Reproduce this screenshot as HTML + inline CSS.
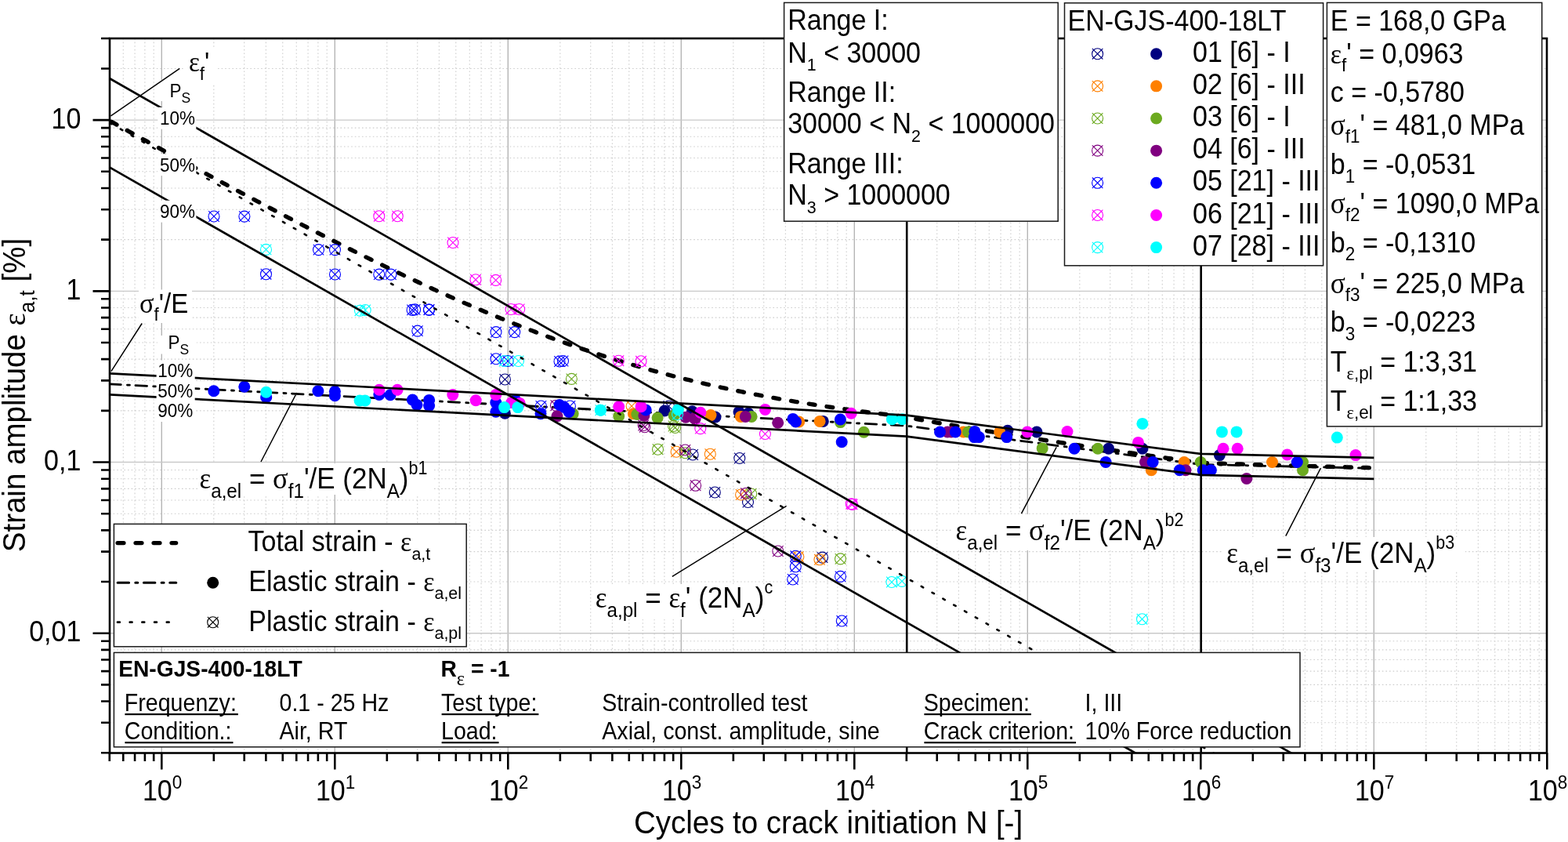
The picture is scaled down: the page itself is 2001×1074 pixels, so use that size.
<!DOCTYPE html>
<html><head><meta charset="utf-8"><title>Strain-life curve EN-GJS-400-18LT</title>
<style>html,body{margin:0;padding:0;background:#fff;overflow:hidden}svg{display:block}</style></head>
<body><svg width="2001" height="1074" viewBox="0 0 2001 1074">
<rect width="2001" height="1074" fill="#fff"/>
<path d="M157.27 49V960.5M172.07 49V960.5M184.88 49V960.5M196.19 49V960.5M272.83 49V960.5M311.74 49V960.5M339.36 49V960.5M360.77 49V960.5M378.27 49V960.5M393.07 49V960.5M405.88 49V960.5M417.19 49V960.5M493.83 49V960.5M532.74 49V960.5M560.36 49V960.5M581.77 49V960.5M599.27 49V960.5M614.07 49V960.5M626.88 49V960.5M638.19 49V960.5M714.83 49V960.5M753.74 49V960.5M781.36 49V960.5M802.77 49V960.5M820.27 49V960.5M835.07 49V960.5M847.88 49V960.5M859.19 49V960.5M935.83 49V960.5M974.74 49V960.5M1002.36 49V960.5M1023.77 49V960.5M1041.27 49V960.5M1056.07 49V960.5M1068.88 49V960.5M1080.19 49V960.5M1156.83 49V960.5M1195.74 49V960.5M1223.36 49V960.5M1244.77 49V960.5M1262.27 49V960.5M1277.07 49V960.5M1289.88 49V960.5M1301.19 49V960.5M1377.83 49V960.5M1416.74 49V960.5M1444.36 49V960.5M1465.77 49V960.5M1483.27 49V960.5M1498.07 49V960.5M1510.88 49V960.5M1522.19 49V960.5M1598.83 49V960.5M1637.74 49V960.5M1665.36 49V960.5M1686.77 49V960.5M1704.27 49V960.5M1719.07 49V960.5M1731.88 49V960.5M1743.19 49V960.5M1819.83 49V960.5M1858.74 49V960.5M1886.36 49V960.5M1907.77 49V960.5M1925.27 49V960.5M1940.07 49V960.5M1952.88 49V960.5M1964.19 49V960.5M140 921.82H1974M140 894.56H1974M140 873.41H1974M140 856.14H1974M140 841.53H1974M140 828.88H1974M140 817.71H1974M140 742.05H1974M140 703.62H1974M140 676.36H1974M140 655.21H1974M140 637.94H1974M140 623.33H1974M140 610.68H1974M140 599.51H1974M140 523.85H1974M140 485.42H1974M140 458.16H1974M140 437.01H1974M140 419.74H1974M140 405.13H1974M140 392.48H1974M140 381.31H1974M140 305.65H1974M140 267.22H1974M140 239.96H1974M140 218.81H1974M140 201.54H1974M140 186.93H1974M140 174.28H1974M140 163.11H1974M140 87.45H1974" stroke="#cdcdcd" stroke-width="1.1" stroke-dasharray="1.6 3" fill="none"/>
<path d="M206.3 49V960.5M427.3 49V960.5M648.3 49V960.5M869.3 49V960.5M1090.3 49V960.5M1311.3 49V960.5M1532.3 49V960.5M1753.3 49V960.5" stroke="#b5b5b5" stroke-width="1.4" fill="none"/>
<path d="M140 807.73H1974M140 589.53H1974M140 371.33H1974M140 153.13H1974" stroke="#c9c9c9" stroke-width="1.4" fill="none"/>
<defs><clipPath id="pc"><rect x="140.0" y="49.0" width="1834.0" height="911.5"/></clipPath></defs>
<g clip-path="url(#pc)" fill="none" stroke="#000">
<path d="M139.77 489.85L1156.83 543.17L1532.3 592.44L1753.3 597.37" stroke-width="2.8" stroke-dasharray="14.5 8.2 3 7.6" stroke-linecap="round"/>
<path d="M139.77 153.93L142.46 155.42L145.15 156.91L147.84 158.41L150.53 159.9L153.22 161.39L155.91 162.88L158.6 164.37L161.29 165.86L163.98 167.35L166.66 168.84L169.35 170.33L172.04 171.82L174.73 173.3L177.42 174.79L180.11 176.27L182.8 177.76L185.49 179.24L188.18 180.72L190.87 182.21L193.56 183.69L196.25 185.17L198.94 186.65L201.62 188.13L204.31 189.61L207 191.09L209.69 192.56L212.38 194.04L215.07 195.51L217.76 196.99L220.45 198.46L223.14 199.93L225.83 201.41L228.52 202.88L231.21 204.35L233.89 205.82L236.58 207.28L239.27 208.75L241.96 210.22L244.65 211.68L247.34 213.15L250.03 214.61L252.72 216.07L255.41 217.53L258.1 218.99L260.79 220.45L263.48 221.91L266.17 223.37L268.85 224.82L271.54 226.28L274.23 227.73L276.92 229.19L279.61 230.64L282.3 232.09L284.99 233.54L287.68 234.99L290.37 236.43L293.06 237.88L295.75 239.32L298.44 240.77L301.13 242.21L303.81 243.65L306.5 245.09L309.19 246.53L311.88 247.96L314.57 249.4L317.26 250.83L319.95 252.26L322.64 253.7L325.33 255.12L328.02 256.55L330.71 257.98L333.4 259.41L336.08 260.83L338.77 262.25L341.46 263.67L344.15 265.09L346.84 266.51L349.53 267.93L352.22 269.34L354.91 270.75L357.6 272.16L360.29 273.57L362.98 274.98L365.67 276.39L368.36 277.79L371.04 279.2L373.73 280.6L376.42 282L379.11 283.39L381.8 284.79L384.49 286.18L387.18 287.57L389.87 288.96L392.56 290.35L395.25 291.74L397.94 293.12L400.63 294.5L403.32 295.88L406 297.26L408.69 298.64L411.38 300.01L414.07 301.38L416.76 302.75L419.45 304.12L422.14 305.49L424.83 306.85L427.52 308.21L430.21 309.57L432.9 310.93L435.59 312.28L438.27 313.63L440.96 314.98L443.65 316.33L446.34 317.67L449.03 319.02L451.72 320.36L454.41 321.69L457.1 323.03L459.79 324.36L462.48 325.69L465.17 327.02L467.86 328.34L470.55 329.66L473.23 330.98L475.92 332.3L478.61 333.61L481.3 334.92L483.99 336.23L486.68 337.54L489.37 338.84L492.06 340.14L494.75 341.44L497.44 342.73L500.13 344.02L502.82 345.31L505.51 346.6L508.19 347.88L510.88 349.16L513.57 350.43L516.26 351.71L518.95 352.98L521.64 354.24L524.33 355.51L527.02 356.77L529.71 358.02L532.4 359.28L535.09 360.53L537.78 361.77L540.47 363.02L543.15 364.26L545.84 365.49L548.53 366.73L551.22 367.96L553.91 369.18L556.6 370.41L559.29 371.62L561.98 372.84L564.67 374.05L567.36 375.26L570.05 376.46L572.74 377.67L575.42 378.86L578.11 380.06L580.8 381.25L583.49 382.43L586.18 383.61L588.87 384.79L591.56 385.96L594.25 387.13L596.94 388.3L599.63 389.46L602.32 390.62L605.01 391.77L607.7 392.92L610.38 394.07L613.07 395.21L615.76 396.35L618.45 397.48L621.14 398.61L623.83 399.74L626.52 400.86L629.21 401.97L631.9 403.09L634.59 404.19L637.28 405.3L639.97 406.4L642.66 407.49L645.34 408.58L648.03 409.66L650.72 410.75L653.41 411.82L656.1 412.89L658.79 413.96L661.48 415.02L664.17 416.08L666.86 417.14L669.55 418.19L672.24 419.23L674.93 420.27L677.61 421.3L680.3 422.33L682.99 423.36L685.68 424.38L688.37 425.4L691.06 426.41L693.75 427.41L696.44 428.42L699.13 429.41L701.82 430.4L704.51 431.39L707.2 432.37L709.89 433.35L712.57 434.32L715.26 435.29L717.95 436.25L720.64 437.21L723.33 438.16L726.02 439.11L728.71 440.05L731.4 440.99L734.09 441.92L736.78 442.85L739.47 443.77L742.16 444.69L744.85 445.6L747.53 446.51L750.22 447.41L752.91 448.3L755.6 449.2L758.29 450.08L760.98 450.96L763.67 451.84L766.36 452.71L769.05 453.58L771.74 454.44L774.43 455.3L777.12 456.15L779.8 456.99L782.49 457.83L785.18 458.67L787.87 459.5L790.56 460.32L793.25 461.14L795.94 461.96L798.63 462.77L801.32 463.57L804.01 464.37L806.7 465.17L809.39 465.96L812.08 466.74L814.76 467.52L817.45 468.29L820.14 469.06L822.83 469.83L825.52 470.59L828.21 471.34L830.9 472.09L833.59 472.83L836.28 473.57L838.97 474.31L841.66 475.03L844.35 475.76L847.04 476.48L849.72 477.19L852.41 477.9L855.1 478.6L857.79 479.3L860.48 480L863.17 480.69L865.86 481.37L868.55 482.05L871.24 482.72L873.93 483.39L876.62 484.06L879.31 484.72L882 485.37L884.68 486.02L887.37 486.67L890.06 487.31L892.75 487.95L895.44 488.58L898.13 489.21L900.82 489.83L903.51 490.45L906.2 491.06L908.89 491.67L911.58 492.27L914.27 492.87L916.95 493.47L919.64 494.06L922.33 494.64L925.02 495.23L927.71 495.8L930.4 496.38L933.09 496.94L935.78 497.51L938.47 498.07L941.16 498.62L943.85 499.17L946.54 499.72L949.23 500.26L951.91 500.8L954.6 501.34L957.29 501.87L959.98 502.39L962.67 502.92L965.36 503.43L968.05 503.95L970.74 504.46L973.43 504.96L976.12 505.47L978.81 505.96L981.5 506.46L984.19 506.95L986.87 507.43L989.56 507.92L992.25 508.4L994.94 508.87L997.63 509.34L1000.32 509.81L1003.01 510.27L1005.7 510.73L1008.39 511.19L1011.08 511.64L1013.77 512.09L1016.46 512.54L1019.14 512.98L1021.83 513.42L1024.52 513.86L1027.21 514.29L1029.9 514.72L1032.59 515.15L1035.28 515.57L1037.97 515.99L1040.66 516.4L1043.35 516.82L1046.04 517.22L1048.73 517.63L1051.42 518.03L1054.1 518.43L1056.79 518.83L1059.48 519.22L1062.17 519.62L1064.86 520L1067.55 520.39L1070.24 520.77L1072.93 521.15L1075.62 521.52L1078.31 521.9L1081 522.27L1083.69 522.64L1086.38 523L1089.06 523.36L1091.75 523.72L1094.44 524.08L1097.13 524.43L1099.82 524.78L1102.51 525.13L1105.2 525.48L1107.89 525.82L1110.58 526.16L1113.27 526.5L1115.96 526.84L1118.65 527.17L1121.34 527.5L1124.02 527.83L1126.71 528.16L1129.4 528.48L1132.09 528.8L1134.78 529.12L1137.47 529.44L1140.16 529.75L1142.85 530.07L1145.54 530.38L1148.23 530.69L1150.92 530.99L1153.61 531.3L1156.29 531.6L1158.98 532.67L1161.67 533.15L1164.36 533.63L1167.05 534.11L1169.74 534.59L1172.43 535.07L1175.12 535.54L1177.81 536.01L1180.5 536.49L1183.19 536.96L1185.88 537.43L1188.57 537.9L1191.25 538.36L1193.94 538.83L1196.63 539.29L1199.32 539.76L1202.01 540.22L1204.7 540.68L1207.39 541.14L1210.08 541.59L1212.77 542.05L1215.46 542.51L1218.15 542.96L1220.84 543.41L1223.53 543.87L1226.21 544.32L1228.9 544.77L1231.59 545.21L1234.28 545.66L1236.97 546.11L1239.66 546.55L1242.35 547L1245.04 547.44L1247.73 547.88L1250.42 548.32L1253.11 548.76L1255.8 549.2L1258.48 549.64L1261.17 550.07L1263.86 550.51L1266.55 550.94L1269.24 551.37L1271.93 551.81L1274.62 552.24L1277.31 552.67L1280 553.1L1282.69 553.53L1285.38 553.95L1288.07 554.38L1290.76 554.81L1293.44 555.23L1296.13 555.65L1298.82 556.08L1301.51 556.5L1304.2 556.92L1306.89 557.34L1309.58 557.76L1312.27 558.18L1314.96 558.6L1317.65 559.01L1320.34 559.43L1323.03 559.85L1325.72 560.26L1328.4 560.67L1331.09 561.09L1333.78 561.5L1336.47 561.91L1339.16 562.32L1341.85 562.73L1344.54 563.14L1347.23 563.55L1349.92 563.96L1352.61 564.36L1355.3 564.77L1357.99 565.18L1360.67 565.58L1363.36 565.99L1366.05 566.39L1368.74 566.79L1371.43 567.2L1374.12 567.6L1376.81 568L1379.5 568.4L1382.19 568.8L1384.88 569.2L1387.57 569.6L1390.26 569.99L1392.95 570.39L1395.63 570.79L1398.32 571.19L1401.01 571.58L1403.7 571.98L1406.39 572.37L1409.08 572.76L1411.77 573.16L1414.46 573.55L1417.15 573.94L1419.84 574.33L1422.53 574.73L1425.22 575.12L1427.91 575.51L1430.59 575.9L1433.28 576.29L1435.97 576.67L1438.66 577.06L1441.35 577.45L1444.04 577.84L1446.73 578.22L1449.42 578.61L1452.11 579L1454.8 579.38L1457.49 579.77L1460.18 580.15L1462.87 580.54L1465.55 580.92L1468.24 581.3L1470.93 581.69L1473.62 582.07L1476.31 582.45L1479 582.83L1481.69 583.21L1484.38 583.59L1487.07 583.97L1489.76 584.35L1492.45 584.73L1495.14 585.11L1497.82 585.49L1500.51 585.87L1503.2 586.25L1505.89 586.62L1508.58 587L1511.27 587.38L1513.96 587.76L1516.65 588.13L1519.34 588.51L1522.03 588.88L1524.72 589.26L1527.41 589.63L1530.1 590.01L1532.78 590.4L1535.47 590.49L1538.16 590.58L1540.85 590.67L1543.54 590.76L1546.23 590.85L1548.92 590.94L1551.61 591.03L1554.3 591.12L1556.99 591.21L1559.68 591.29L1562.37 591.38L1565.06 591.47L1567.74 591.55L1570.43 591.64L1573.12 591.72L1575.81 591.81L1578.5 591.89L1581.19 591.98L1583.88 592.06L1586.57 592.15L1589.26 592.23L1591.95 592.31L1594.64 592.39L1597.33 592.48L1600.01 592.56L1602.7 592.64L1605.39 592.72L1608.08 592.8L1610.77 592.88L1613.46 592.96L1616.15 593.04L1618.84 593.12L1621.53 593.2L1624.22 593.28L1626.91 593.36L1629.6 593.43L1632.29 593.51L1634.97 593.59L1637.66 593.67L1640.35 593.74L1643.04 593.82L1645.73 593.9L1648.42 593.97L1651.11 594.05L1653.8 594.12L1656.49 594.2L1659.18 594.28L1661.87 594.35L1664.56 594.42L1667.25 594.5L1669.93 594.57L1672.62 594.65L1675.31 594.72L1678 594.79L1680.69 594.87L1683.38 594.94L1686.07 595.01L1688.76 595.09L1691.45 595.16L1694.14 595.23L1696.83 595.3L1699.52 595.38L1702.2 595.45L1704.89 595.52L1707.58 595.59L1710.27 595.66L1712.96 595.73L1715.65 595.8L1718.34 595.87L1721.03 595.94L1723.72 596.01L1726.41 596.08L1729.1 596.15L1731.79 596.22L1734.48 596.29L1737.16 596.36L1739.85 596.43L1742.54 596.5L1745.23 596.57L1747.92 596.64L1750.61 596.71L1753.3 596.78" stroke-width="5.4" stroke-dasharray="7.8 15.2" stroke-dashoffset="-2.7" stroke-linecap="round"/>
</g>
<g>
<circle cx="644.4" cy="484" r="7.0" fill="none" stroke="#000080" stroke-width="1.1"/><path d="M637.6 477.2L651.2 490.8M637.6 490.8L651.2 477.2" stroke="#000080" stroke-width="1.1"/>
<circle cx="884.1" cy="580" r="7.0" fill="none" stroke="#000080" stroke-width="1.1"/><path d="M877.3 573.2L890.9 586.8M877.3 586.8L890.9 573.2" stroke="#000080" stroke-width="1.1"/>
<circle cx="943.8" cy="584.5" r="7.0" fill="none" stroke="#000080" stroke-width="1.1"/><path d="M937 577.7L950.6 591.3M937 591.3L950.6 577.7" stroke="#000080" stroke-width="1.1"/>
<circle cx="912.3" cy="628" r="7.0" fill="none" stroke="#000080" stroke-width="1.1"/><path d="M905.5 621.2L919.1 634.8M905.5 634.8L919.1 621.2" stroke="#000080" stroke-width="1.1"/>
<circle cx="954.5" cy="640.5" r="7.0" fill="none" stroke="#000080" stroke-width="1.1"/><path d="M947.7 633.7L961.3 647.3M947.7 647.3L961.3 633.7" stroke="#000080" stroke-width="1.1"/>
<circle cx="1049.5" cy="711.1" r="7.0" fill="none" stroke="#000080" stroke-width="1.1"/><path d="M1042.7 704.3L1056.3 717.9M1042.7 717.9L1056.3 704.3" stroke="#000080" stroke-width="1.1"/>
<circle cx="853.4" cy="518" r="7.0" fill="none" stroke="#000080" stroke-width="1.1"/><path d="M846.6 511.2L860.2 524.8M846.6 524.8L860.2 511.2" stroke="#000080" stroke-width="1.1"/>
<circle cx="644.4" cy="527.2" r="7.5" fill="#000080"/>
<circle cx="848.1" cy="524" r="7.5" fill="#000080"/>
<circle cx="883.4" cy="524.7" r="7.5" fill="#000080"/>
<circle cx="913" cy="532" r="7.5" fill="#000080"/>
<circle cx="943" cy="525.4" r="7.5" fill="#000080"/>
<circle cx="955" cy="527.2" r="7.5" fill="#000080"/>
<circle cx="1050.3" cy="537.4" r="7.5" fill="#000080"/>
<circle cx="1285.9" cy="549.2" r="7.5" fill="#000080"/>
<circle cx="1323" cy="551" r="7.5" fill="#000080"/>
<circle cx="1414.7" cy="572.2" r="7.5" fill="#000080"/>
<circle cx="1457.9" cy="572.2" r="7.5" fill="#000080"/>
<circle cx="1556.4" cy="580.6" r="7.5" fill="#000080"/>
<circle cx="806.1" cy="518" r="7.0" fill="none" stroke="#FF8000" stroke-width="1.1"/><path d="M799.3 511.2L812.9 524.8M799.3 524.8L812.9 511.2" stroke="#FF8000" stroke-width="1.1"/>
<circle cx="863.1" cy="576.2" r="7.0" fill="none" stroke="#FF8000" stroke-width="1.1"/><path d="M856.3 569.4L869.9 583M856.3 583L869.9 569.4" stroke="#FF8000" stroke-width="1.1"/>
<circle cx="906.3" cy="579.2" r="7.0" fill="none" stroke="#FF8000" stroke-width="1.1"/><path d="M899.5 572.4L913.1 586M899.5 586L913.1 572.4" stroke="#FF8000" stroke-width="1.1"/>
<circle cx="945.6" cy="631" r="7.0" fill="none" stroke="#FF8000" stroke-width="1.1"/><path d="M938.8 624.2L952.4 637.8M938.8 637.8L952.4 624.2" stroke="#FF8000" stroke-width="1.1"/>
<circle cx="1018.9" cy="710.2" r="7.0" fill="none" stroke="#FF8000" stroke-width="1.1"/><path d="M1012.1 703.4L1025.7 717M1012.1 717L1025.7 703.4" stroke="#FF8000" stroke-width="1.1"/>
<circle cx="1045.9" cy="713.8" r="7.0" fill="none" stroke="#FF8000" stroke-width="1.1"/><path d="M1039.1 707L1052.7 720.6M1039.1 720.6L1052.7 707" stroke="#FF8000" stroke-width="1.1"/>
<circle cx="808.4" cy="527.7" r="7.5" fill="#FF8000"/>
<circle cx="907" cy="529.6" r="7.5" fill="#FF8000"/>
<circle cx="945.3" cy="531.4" r="7.5" fill="#FF8000"/>
<circle cx="1019.7" cy="538" r="7.5" fill="#FF8000"/>
<circle cx="1046.1" cy="537.4" r="7.5" fill="#FF8000"/>
<circle cx="1229.5" cy="551" r="7.5" fill="#FF8000"/>
<circle cx="1275.7" cy="551" r="7.5" fill="#FF8000"/>
<circle cx="1469.3" cy="599.7" r="7.5" fill="#FF8000"/>
<circle cx="1511.2" cy="589.5" r="7.5" fill="#FF8000"/>
<circle cx="1623.5" cy="589.5" r="7.5" fill="#FF8000"/>
<circle cx="729.4" cy="483.4" r="7.0" fill="none" stroke="#6CAA20" stroke-width="1.1"/><path d="M722.6 476.6L736.2 490.2M722.6 490.2L736.2 476.6" stroke="#6CAA20" stroke-width="1.1"/>
<circle cx="861.6" cy="545.5" r="7.0" fill="none" stroke="#6CAA20" stroke-width="1.1"/><path d="M854.8 538.7L868.4 552.3M854.8 552.3L868.4 538.7" stroke="#6CAA20" stroke-width="1.1"/>
<circle cx="859.5" cy="543.5" r="7.0" fill="none" stroke="#6CAA20" stroke-width="1.1"/><path d="M852.7 536.7L866.3 550.3M852.7 550.3L866.3 536.7" stroke="#6CAA20" stroke-width="1.1"/>
<circle cx="839.5" cy="573.2" r="7.0" fill="none" stroke="#6CAA20" stroke-width="1.1"/><path d="M832.7 566.4L846.3 580M832.7 580L846.3 566.4" stroke="#6CAA20" stroke-width="1.1"/>
<circle cx="874.4" cy="577.7" r="7.0" fill="none" stroke="#6CAA20" stroke-width="1.1"/><path d="M867.6 570.9L881.2 584.5M867.6 584.5L881.2 570.9" stroke="#6CAA20" stroke-width="1.1"/>
<circle cx="958.7" cy="630" r="7.0" fill="none" stroke="#6CAA20" stroke-width="1.1"/><path d="M951.9 623.2L965.5 636.8M951.9 636.8L965.5 623.2" stroke="#6CAA20" stroke-width="1.1"/>
<circle cx="1072.5" cy="712.9" r="7.0" fill="none" stroke="#6CAA20" stroke-width="1.1"/><path d="M1065.7 706.1L1079.3 719.7M1065.7 719.7L1079.3 706.1" stroke="#6CAA20" stroke-width="1.1"/>
<circle cx="731.2" cy="527.7" r="7.5" fill="#6CAA20"/>
<circle cx="789.7" cy="530.7" r="7.5" fill="#6CAA20"/>
<circle cx="812.9" cy="528.5" r="7.5" fill="#6CAA20"/>
<circle cx="839.1" cy="533" r="7.5" fill="#6CAA20"/>
<circle cx="860.1" cy="530" r="7.5" fill="#6CAA20"/>
<circle cx="959.1" cy="531.4" r="7.5" fill="#6CAA20"/>
<circle cx="1072.4" cy="538.6" r="7.5" fill="#6CAA20"/>
<circle cx="1102.4" cy="551.2" r="7.5" fill="#6CAA20"/>
<circle cx="1235.5" cy="551" r="7.5" fill="#6CAA20"/>
<circle cx="1330.2" cy="571.9" r="7.5" fill="#6CAA20"/>
<circle cx="1401" cy="572.2" r="7.5" fill="#6CAA20"/>
<circle cx="1532.2" cy="589.5" r="7.5" fill="#6CAA20"/>
<circle cx="1662.5" cy="589.5" r="7.5" fill="#6CAA20"/>
<circle cx="1662.5" cy="599.7" r="7.5" fill="#6CAA20"/>
<circle cx="709.4" cy="517.2" r="7.0" fill="none" stroke="#800080" stroke-width="1.1"/><path d="M702.6 510.4L716.2 524M702.6 524L716.2 510.4" stroke="#800080" stroke-width="1.1"/>
<circle cx="822.7" cy="544.7" r="7.0" fill="none" stroke="#800080" stroke-width="1.1"/><path d="M815.9 537.9L829.5 551.5M815.9 551.5L829.5 537.9" stroke="#800080" stroke-width="1.1"/>
<circle cx="821.2" cy="542.5" r="7.0" fill="none" stroke="#800080" stroke-width="1.1"/><path d="M814.4 535.7L828 549.3M814.4 549.3L828 535.7" stroke="#800080" stroke-width="1.1"/>
<circle cx="874.4" cy="574" r="7.0" fill="none" stroke="#800080" stroke-width="1.1"/><path d="M867.6 567.2L881.2 580.8M867.6 580.8L881.2 567.2" stroke="#800080" stroke-width="1.1"/>
<circle cx="887.6" cy="619.3" r="7.0" fill="none" stroke="#800080" stroke-width="1.1"/><path d="M880.8 612.5L894.4 626.1M880.8 626.1L894.4 612.5" stroke="#800080" stroke-width="1.1"/>
<circle cx="952" cy="629.2" r="7.0" fill="none" stroke="#800080" stroke-width="1.1"/><path d="M945.2 622.4L958.8 636M945.2 636L958.8 622.4" stroke="#800080" stroke-width="1.1"/>
<circle cx="992.8" cy="703" r="7.0" fill="none" stroke="#800080" stroke-width="1.1"/><path d="M986 696.2L999.6 709.8M986 709.8L999.6 696.2" stroke="#800080" stroke-width="1.1"/>
<circle cx="711" cy="530.7" r="7.5" fill="#800080"/>
<circle cx="821.9" cy="530" r="7.5" fill="#800080"/>
<circle cx="875.1" cy="532.2" r="7.5" fill="#800080"/>
<circle cx="887.1" cy="534.5" r="7.5" fill="#800080"/>
<circle cx="886" cy="533.2" r="7.5" fill="#800080"/>
<circle cx="951.3" cy="531.4" r="7.5" fill="#800080"/>
<circle cx="992.7" cy="539.2" r="7.5" fill="#800080"/>
<circle cx="1209.1" cy="551" r="7.5" fill="#800080"/>
<circle cx="1213.9" cy="551" r="7.5" fill="#800080"/>
<circle cx="1461.5" cy="589.5" r="7.5" fill="#800080"/>
<circle cx="1513" cy="599.7" r="7.5" fill="#800080"/>
<circle cx="1590.9" cy="610.5" r="7.5" fill="#800080"/>
<circle cx="273" cy="276" r="7.0" fill="none" stroke="#0000FF" stroke-width="1.1"/><path d="M266.2 269.2L279.8 282.8M266.2 282.8L279.8 269.2" stroke="#0000FF" stroke-width="1.1"/>
<circle cx="311.9" cy="276.1" r="7.0" fill="none" stroke="#0000FF" stroke-width="1.1"/><path d="M305.1 269.3L318.7 282.9M305.1 282.9L318.7 269.3" stroke="#0000FF" stroke-width="1.1"/>
<circle cx="339.5" cy="349.7" r="7.0" fill="none" stroke="#0000FF" stroke-width="1.1"/><path d="M332.7 342.9L346.3 356.5M332.7 356.5L346.3 342.9" stroke="#0000FF" stroke-width="1.1"/>
<circle cx="406.5" cy="318.6" r="7.0" fill="none" stroke="#0000FF" stroke-width="1.1"/><path d="M399.7 311.8L413.3 325.4M399.7 325.4L413.3 311.8" stroke="#0000FF" stroke-width="1.1"/>
<circle cx="427.5" cy="318.6" r="7.0" fill="none" stroke="#0000FF" stroke-width="1.1"/><path d="M420.7 311.8L434.3 325.4M420.7 325.4L434.3 311.8" stroke="#0000FF" stroke-width="1.1"/>
<circle cx="427.5" cy="350" r="7.0" fill="none" stroke="#0000FF" stroke-width="1.1"/><path d="M420.7 343.2L434.3 356.8M420.7 356.8L434.3 343.2" stroke="#0000FF" stroke-width="1.1"/>
<circle cx="483.8" cy="350.1" r="7.0" fill="none" stroke="#0000FF" stroke-width="1.1"/><path d="M477 343.3L490.6 356.9M477 356.9L490.6 343.3" stroke="#0000FF" stroke-width="1.1"/>
<circle cx="498.9" cy="350.1" r="7.0" fill="none" stroke="#0000FF" stroke-width="1.1"/><path d="M492.1 343.3L505.7 356.9M492.1 356.9L505.7 343.3" stroke="#0000FF" stroke-width="1.1"/>
<circle cx="526.1" cy="395.4" r="7.0" fill="none" stroke="#0000FF" stroke-width="1.1"/><path d="M519.3 388.6L532.9 402.2M519.3 402.2L532.9 388.6" stroke="#0000FF" stroke-width="1.1"/>
<circle cx="529.6" cy="394.9" r="7.0" fill="none" stroke="#0000FF" stroke-width="1.1"/><path d="M522.8 388.1L536.4 401.7M522.8 401.7L536.4 388.1" stroke="#0000FF" stroke-width="1.1"/>
<circle cx="547.5" cy="395.1" r="7.0" fill="none" stroke="#0000FF" stroke-width="1.1"/><path d="M540.7 388.3L554.3 401.9M540.7 401.9L554.3 388.3" stroke="#0000FF" stroke-width="1.1"/>
<circle cx="547.5" cy="395.1" r="7.0" fill="none" stroke="#0000FF" stroke-width="1.1"/><path d="M540.7 388.3L554.3 401.9M540.7 401.9L554.3 388.3" stroke="#0000FF" stroke-width="1.1"/>
<circle cx="532.8" cy="422.1" r="7.0" fill="none" stroke="#0000FF" stroke-width="1.1"/><path d="M526 415.3L539.6 428.9M526 428.9L539.6 415.3" stroke="#0000FF" stroke-width="1.1"/>
<circle cx="633" cy="423.6" r="7.0" fill="none" stroke="#0000FF" stroke-width="1.1"/><path d="M626.2 416.8L639.8 430.4M626.2 430.4L639.8 416.8" stroke="#0000FF" stroke-width="1.1"/>
<circle cx="656.7" cy="423.6" r="7.0" fill="none" stroke="#0000FF" stroke-width="1.1"/><path d="M649.9 416.8L663.5 430.4M649.9 430.4L663.5 416.8" stroke="#0000FF" stroke-width="1.1"/>
<circle cx="633" cy="457.7" r="7.0" fill="none" stroke="#0000FF" stroke-width="1.1"/><path d="M626.2 450.9L639.8 464.5M626.2 464.5L639.8 450.9" stroke="#0000FF" stroke-width="1.1"/>
<circle cx="648.1" cy="460.5" r="7.0" fill="none" stroke="#0000FF" stroke-width="1.1"/><path d="M641.3 453.7L654.9 467.3M641.3 467.3L654.9 453.7" stroke="#0000FF" stroke-width="1.1"/>
<circle cx="714" cy="461" r="7.0" fill="none" stroke="#0000FF" stroke-width="1.1"/><path d="M707.2 454.2L720.8 467.8M707.2 467.8L720.8 454.2" stroke="#0000FF" stroke-width="1.1"/>
<circle cx="718.5" cy="460.5" r="7.0" fill="none" stroke="#0000FF" stroke-width="1.1"/><path d="M711.7 453.7L725.3 467.3M711.7 467.3L725.3 453.7" stroke="#0000FF" stroke-width="1.1"/>
<circle cx="690.4" cy="518" r="7.0" fill="none" stroke="#0000FF" stroke-width="1.1"/><path d="M683.6 511.2L697.2 524.8M683.6 524.8L697.2 511.2" stroke="#0000FF" stroke-width="1.1"/>
<circle cx="727.4" cy="518" r="7.0" fill="none" stroke="#0000FF" stroke-width="1.1"/><path d="M720.6 511.2L734.2 524.8M720.6 524.8L734.2 511.2" stroke="#0000FF" stroke-width="1.1"/>
<circle cx="1015.3" cy="709.3" r="7.0" fill="none" stroke="#0000FF" stroke-width="1.1"/><path d="M1008.5 702.5L1022.1 716.1M1008.5 716.1L1022.1 702.5" stroke="#0000FF" stroke-width="1.1"/>
<circle cx="1015.3" cy="722.8" r="7.0" fill="none" stroke="#0000FF" stroke-width="1.1"/><path d="M1008.5 716L1022.1 729.6M1008.5 729.6L1022.1 716" stroke="#0000FF" stroke-width="1.1"/>
<circle cx="1011.7" cy="739" r="7.0" fill="none" stroke="#0000FF" stroke-width="1.1"/><path d="M1004.9 732.2L1018.5 745.8M1004.9 745.8L1018.5 732.2" stroke="#0000FF" stroke-width="1.1"/>
<circle cx="1072.5" cy="735.4" r="7.0" fill="none" stroke="#0000FF" stroke-width="1.1"/><path d="M1065.7 728.6L1079.3 742.2M1065.7 742.2L1079.3 728.6" stroke="#0000FF" stroke-width="1.1"/>
<circle cx="1074.3" cy="792" r="7.0" fill="none" stroke="#0000FF" stroke-width="1.1"/><path d="M1067.5 785.2L1081.1 798.8M1067.5 798.8L1081.1 785.2" stroke="#0000FF" stroke-width="1.1"/>
<circle cx="272.8" cy="498.7" r="7.5" fill="#0000FF"/>
<circle cx="311.8" cy="493.3" r="7.5" fill="#0000FF"/>
<circle cx="339.7" cy="506.8" r="7.5" fill="#0000FF"/>
<circle cx="405.9" cy="498.7" r="7.5" fill="#0000FF"/>
<circle cx="427.4" cy="499.3" r="7.5" fill="#0000FF"/>
<circle cx="427.4" cy="504.7" r="7.5" fill="#0000FF"/>
<circle cx="483.9" cy="503.5" r="7.5" fill="#0000FF"/>
<circle cx="498.1" cy="503.8" r="7.5" fill="#0000FF"/>
<circle cx="526.4" cy="510" r="7.5" fill="#0000FF"/>
<circle cx="532" cy="516.4" r="7.5" fill="#0000FF"/>
<circle cx="547.6" cy="510.4" r="7.5" fill="#0000FF"/>
<circle cx="547.6" cy="517.6" r="7.5" fill="#0000FF"/>
<circle cx="632.8" cy="513.6" r="7.5" fill="#0000FF"/>
<circle cx="632.8" cy="525.2" r="7.5" fill="#0000FF"/>
<circle cx="657.6" cy="510.4" r="7.5" fill="#0000FF"/>
<circle cx="690" cy="527.7" r="7.5" fill="#0000FF"/>
<circle cx="714" cy="516.5" r="7.5" fill="#0000FF"/>
<circle cx="720" cy="519.5" r="7.5" fill="#0000FF"/>
<circle cx="726" cy="525.5" r="7.5" fill="#0000FF"/>
<circle cx="824.2" cy="523" r="7.5" fill="#0000FF"/>
<circle cx="1011.9" cy="534.4" r="7.5" fill="#0000FF"/>
<circle cx="1015.5" cy="538" r="7.5" fill="#0000FF"/>
<circle cx="1072.4" cy="535" r="7.5" fill="#0000FF"/>
<circle cx="1074.2" cy="563.7" r="7.5" fill="#0000FF"/>
<circle cx="1199.5" cy="551" r="7.5" fill="#0000FF"/>
<circle cx="1219.3" cy="551" r="7.5" fill="#0000FF"/>
<circle cx="1243.9" cy="550.4" r="7.5" fill="#0000FF"/>
<circle cx="1243.3" cy="557.6" r="7.5" fill="#0000FF"/>
<circle cx="1249.3" cy="557.6" r="7.5" fill="#0000FF"/>
<circle cx="1284.7" cy="557.6" r="7.5" fill="#0000FF"/>
<circle cx="1371" cy="572.2" r="7.5" fill="#0000FF"/>
<circle cx="1411.1" cy="589.5" r="7.5" fill="#0000FF"/>
<circle cx="1471.1" cy="589.5" r="7.5" fill="#0000FF"/>
<circle cx="1505.3" cy="599.7" r="7.5" fill="#0000FF"/>
<circle cx="1535.2" cy="599.7" r="7.5" fill="#0000FF"/>
<circle cx="1545.4" cy="599.7" r="7.5" fill="#0000FF"/>
<circle cx="1655.3" cy="589.5" r="7.5" fill="#0000FF"/>
<circle cx="483.8" cy="275.7" r="7.0" fill="none" stroke="#FF00FF" stroke-width="1.1"/><path d="M477 268.9L490.6 282.5M477 282.5L490.6 268.9" stroke="#FF00FF" stroke-width="1.1"/>
<circle cx="507.3" cy="275.7" r="7.0" fill="none" stroke="#FF00FF" stroke-width="1.1"/><path d="M500.5 268.9L514.1 282.5M500.5 282.5L514.1 268.9" stroke="#FF00FF" stroke-width="1.1"/>
<circle cx="578" cy="309.5" r="7.0" fill="none" stroke="#FF00FF" stroke-width="1.1"/><path d="M571.2 302.7L584.8 316.3M571.2 316.3L584.8 302.7" stroke="#FF00FF" stroke-width="1.1"/>
<circle cx="607" cy="356.8" r="7.0" fill="none" stroke="#FF00FF" stroke-width="1.1"/><path d="M600.2 350L613.8 363.6M600.2 363.6L613.8 350" stroke="#FF00FF" stroke-width="1.1"/>
<circle cx="632.7" cy="357.4" r="7.0" fill="none" stroke="#FF00FF" stroke-width="1.1"/><path d="M625.9 350.6L639.5 364.2M625.9 364.2L639.5 350.6" stroke="#FF00FF" stroke-width="1.1"/>
<circle cx="652" cy="394.5" r="7.0" fill="none" stroke="#FF00FF" stroke-width="1.1"/><path d="M645.2 387.7L658.8 401.3M645.2 401.3L658.8 387.7" stroke="#FF00FF" stroke-width="1.1"/>
<circle cx="662.7" cy="394.5" r="7.0" fill="none" stroke="#FF00FF" stroke-width="1.1"/><path d="M655.9 387.7L669.5 401.3M655.9 401.3L669.5 387.7" stroke="#FF00FF" stroke-width="1.1"/>
<circle cx="789.4" cy="460.2" r="7.0" fill="none" stroke="#FF00FF" stroke-width="1.1"/><path d="M782.6 453.4L796.2 467M782.6 467L796.2 453.4" stroke="#FF00FF" stroke-width="1.1"/>
<circle cx="818" cy="460.8" r="7.0" fill="none" stroke="#FF00FF" stroke-width="1.1"/><path d="M811.2 454L824.8 467.6M811.2 467.6L824.8 454" stroke="#FF00FF" stroke-width="1.1"/>
<circle cx="893.8" cy="546.6" r="7.0" fill="none" stroke="#FF00FF" stroke-width="1.1"/><path d="M887 539.8L900.6 553.4M887 553.4L900.6 539.8" stroke="#FF00FF" stroke-width="1.1"/>
<circle cx="976.4" cy="553.5" r="7.0" fill="none" stroke="#FF00FF" stroke-width="1.1"/><path d="M969.6 546.7L983.2 560.3M969.6 560.3L983.2 546.7" stroke="#FF00FF" stroke-width="1.1"/>
<circle cx="1086.2" cy="642.7" r="7.0" fill="none" stroke="#FF00FF" stroke-width="1.1"/><path d="M1079.4 635.9L1093 649.5M1079.4 649.5L1093 635.9" stroke="#FF00FF" stroke-width="1.1"/>
<circle cx="1087.7" cy="643.4" r="7.0" fill="none" stroke="#FF00FF" stroke-width="1.1"/><path d="M1080.9 636.6L1094.5 650.2M1080.9 650.2L1094.5 636.6" stroke="#FF00FF" stroke-width="1.1"/>
<circle cx="483.9" cy="497.2" r="7.5" fill="#FF00FF"/>
<circle cx="507.1" cy="497.2" r="7.5" fill="#FF00FF"/>
<circle cx="577.8" cy="503.6" r="7.5" fill="#FF00FF"/>
<circle cx="607.2" cy="510.8" r="7.5" fill="#FF00FF"/>
<circle cx="632.8" cy="503.6" r="7.5" fill="#FF00FF"/>
<circle cx="652.8" cy="513.6" r="7.5" fill="#FF00FF"/>
<circle cx="663.2" cy="514.4" r="7.5" fill="#FF00FF"/>
<circle cx="789.7" cy="518.7" r="7.5" fill="#FF00FF"/>
<circle cx="818.1" cy="518.7" r="7.5" fill="#FF00FF"/>
<circle cx="893.9" cy="526.2" r="7.5" fill="#FF00FF"/>
<circle cx="976.5" cy="522.4" r="7.5" fill="#FF00FF"/>
<circle cx="1086.2" cy="527.2" r="7.5" fill="#FF00FF"/>
<circle cx="1311" cy="551" r="7.5" fill="#FF00FF"/>
<circle cx="1362" cy="550.6" r="7.5" fill="#FF00FF"/>
<circle cx="1452.5" cy="564.4" r="7.5" fill="#FF00FF"/>
<circle cx="1561" cy="572.2" r="7.5" fill="#FF00FF"/>
<circle cx="1579.2" cy="572.2" r="7.5" fill="#FF00FF"/>
<circle cx="1642.7" cy="580" r="7.5" fill="#FF00FF"/>
<circle cx="1730" cy="580.6" r="7.5" fill="#FF00FF"/>
<circle cx="339.5" cy="318.4" r="7.0" fill="none" stroke="#00FFFF" stroke-width="1.1"/><path d="M332.7 311.6L346.3 325.2M332.7 325.2L346.3 311.6" stroke="#00FFFF" stroke-width="1.1"/>
<circle cx="459.5" cy="396.2" r="7.0" fill="none" stroke="#00FFFF" stroke-width="1.1"/><path d="M452.7 389.4L466.3 403M452.7 403L466.3 389.4" stroke="#00FFFF" stroke-width="1.1"/>
<circle cx="466.2" cy="395.5" r="7.0" fill="none" stroke="#00FFFF" stroke-width="1.1"/><path d="M459.4 388.7L473 402.3M459.4 402.3L473 388.7" stroke="#00FFFF" stroke-width="1.1"/>
<circle cx="643.6" cy="460.5" r="7.0" fill="none" stroke="#00FFFF" stroke-width="1.1"/><path d="M636.8 453.7L650.4 467.3M636.8 467.3L650.4 453.7" stroke="#00FFFF" stroke-width="1.1"/>
<circle cx="661.5" cy="460.5" r="7.0" fill="none" stroke="#00FFFF" stroke-width="1.1"/><path d="M654.7 453.7L668.3 467.3M654.7 467.3L668.3 453.7" stroke="#00FFFF" stroke-width="1.1"/>
<circle cx="766.4" cy="523.2" r="7.0" fill="none" stroke="#00FFFF" stroke-width="1.1"/><path d="M759.6 516.4L773.2 530M759.6 530L773.2 516.4" stroke="#00FFFF" stroke-width="1.1"/>
<circle cx="864.6" cy="528.5" r="7.0" fill="none" stroke="#00FFFF" stroke-width="1.1"/><path d="M857.8 521.7L871.4 535.3M857.8 535.3L871.4 521.7" stroke="#00FFFF" stroke-width="1.1"/>
<circle cx="1137.9" cy="742.5" r="7.0" fill="none" stroke="#00FFFF" stroke-width="1.1"/><path d="M1131.1 735.7L1144.7 749.3M1131.1 749.3L1144.7 735.7" stroke="#00FFFF" stroke-width="1.1"/>
<circle cx="1151" cy="741.4" r="7.0" fill="none" stroke="#00FFFF" stroke-width="1.1"/><path d="M1144.2 734.6L1157.8 748.2M1144.2 748.2L1157.8 734.6" stroke="#00FFFF" stroke-width="1.1"/>
<circle cx="1457.5" cy="789.7" r="7.0" fill="none" stroke="#00FFFF" stroke-width="1.1"/><path d="M1450.7 782.9L1464.3 796.5M1450.7 796.5L1464.3 782.9" stroke="#00FFFF" stroke-width="1.1"/>
<circle cx="339.7" cy="500.2" r="7.5" fill="#00FFFF"/>
<circle cx="459.1" cy="511" r="7.5" fill="#00FFFF"/>
<circle cx="465.9" cy="511" r="7.5" fill="#00FFFF"/>
<circle cx="643.6" cy="519.6" r="7.5" fill="#00FFFF"/>
<circle cx="660.8" cy="519.6" r="7.5" fill="#00FFFF"/>
<circle cx="766.4" cy="523.2" r="7.5" fill="#00FFFF"/>
<circle cx="865.4" cy="522.5" r="7.5" fill="#00FFFF"/>
<circle cx="1138.4" cy="534.8" r="7.5" fill="#00FFFF"/>
<circle cx="1151.6" cy="534.8" r="7.5" fill="#00FFFF"/>
<circle cx="1457.9" cy="540.4" r="7.5" fill="#00FFFF"/>
<circle cx="1559.4" cy="550.9" r="7.5" fill="#00FFFF"/>
<circle cx="1578" cy="550.9" r="7.5" fill="#00FFFF"/>
<circle cx="1706.3" cy="558.1" r="7.5" fill="#00FFFF"/>
</g>
<g clip-path="url(#pc)" fill="none" stroke="#000">
<path d="M139.77 99.99L1974 1146.74" stroke-width="2.7"/>
<path d="M139.77 213.42L1974 1260.17" stroke-width="2.7"/>
<path d="M139.77 156.7L1974 1203.45" stroke-width="2.6" stroke-dasharray="2.8 13.1" stroke-dashoffset="-0.3" stroke-linecap="round"/>
<path d="M139.77 476.34L1156.83 529.66L1532.3 578.92L1753.3 583.86" stroke-width="2.7" stroke-linejoin="round"/>
<path d="M139.77 503.36L1156.83 556.68L1532.3 605.95L1753.3 610.88" stroke-width="2.7" stroke-linejoin="round"/>
</g>
<path d="M1157.23 281V960.5M1532.7 338V960.5" stroke="#000" stroke-width="2.6"/>
<rect x="201" y="102" width="50" height="27" fill="#fff"/>
<rect x="201.3" y="136.8" width="49.1" height="27.9" fill="#fff"/>
<rect x="201.3" y="196.2" width="49.1" height="27.9" fill="#fff"/>
<rect x="201.3" y="255.7" width="49.1" height="27.9" fill="#fff"/>
<rect x="199.6" y="459.5" width="49.1" height="78.5" fill="#fff"/>
<rect x="201" y="428" width="50" height="23.5" fill="#fff"/>
<rect x="236" y="62" width="39" height="44" fill="#fff"/>
<rect x="177" y="369.5" width="68" height="42.5" fill="#fff"/>
<rect x="253" y="591" width="301" height="40" fill="#fff"/>
<rect x="1215" y="656" width="306" height="46" fill="#fff"/>
<rect x="1561" y="685" width="309" height="42" fill="#fff"/>
<rect x="755" y="745" width="245" height="45" fill="#fff"/>
<path d="M141.4 147.9L229.3 87.4M141.9 473.7L181.2 412.5M377.4 503.5L333 589M1348.2 570.4L1303.4 655.2M1685.4 597.2L1640.8 683.6M1003.6 645.4L857.8 735.4" stroke="#000" stroke-width="1.5" fill="none"/>
<g font-family="'Liberation Sans', Arial, sans-serif" fill="#000">
<text transform="translate(241 91) scale(1 1.07)" font-size="33"><tspan font-family="'Liberation Serif', serif">ε</tspan><tspan dy="9.9" font-size="22.44">f</tspan><tspan dy="-9.9">'</tspan></text>
<text transform="translate(216.4 123.9) scale(1 1.07)" font-size="22.5"><tspan>P</tspan><tspan dy="6.75" font-size="17.55">S</tspan></text>
<text transform="translate(204 159.2) scale(1 1.07)" font-size="22.5"><tspan>10%</tspan></text>
<text transform="translate(204 218.6) scale(1 1.07)" font-size="22.5"><tspan>50%</tspan></text>
<text transform="translate(204 278.1) scale(1 1.07)" font-size="22.5"><tspan>90%</tspan></text>
<text transform="translate(178 398.7) scale(1 1.07)" font-size="33"><tspan font-size="34.32" font-family="'Liberation Serif', serif">σ</tspan><tspan dy="9.9" font-size="22.44">f</tspan><tspan dy="-9.9">'/E</tspan></text>
<text transform="translate(214.6 445.2) scale(1 1.07)" font-size="22.5"><tspan>P</tspan><tspan dy="6.75" font-size="17.55">S</tspan></text>
<text transform="translate(201.3 480.5) scale(1 1.07)" font-size="22.5"><tspan>10%</tspan></text>
<text transform="translate(201.3 507.2) scale(1 1.07)" font-size="22.5"><tspan>50%</tspan></text>
<text transform="translate(201.3 532.2) scale(1 1.07)" font-size="22.5"><tspan>90%</tspan></text>
<text transform="translate(254.5 622.5) scale(1 1.07)" font-size="35"><tspan font-family="'Liberation Serif', serif">ε</tspan><tspan dy="11.3" font-size="24.2">a,el</tspan><tspan dy="-11.3"> = </tspan><tspan font-size="36.4" font-family="'Liberation Serif', serif">σ</tspan><tspan dy="11.3" font-size="24.2">f1</tspan><tspan dy="-11.3">'/E (2N</tspan><tspan dy="11.3" font-size="24.2">A</tspan><tspan dy="-11.3">)</tspan><tspan dy="-16.6" font-size="21.5">b1</tspan></text>
<text transform="translate(1219.5 688.5) scale(1 1.07)" font-size="35"><tspan font-family="'Liberation Serif', serif">ε</tspan><tspan dy="11.3" font-size="24.2">a,el</tspan><tspan dy="-11.3"> = </tspan><tspan font-size="36.4" font-family="'Liberation Serif', serif">σ</tspan><tspan dy="11.3" font-size="24.2">f2</tspan><tspan dy="-11.3">'/E (2N</tspan><tspan dy="11.3" font-size="24.2">A</tspan><tspan dy="-11.3">)</tspan><tspan dy="-16.6" font-size="21.5">b2</tspan></text>
<text transform="translate(1565.2 718.1) scale(1 1.07)" font-size="35"><tspan font-family="'Liberation Serif', serif">ε</tspan><tspan dy="11.3" font-size="24.2">a,el</tspan><tspan dy="-11.3"> = </tspan><tspan font-size="36.4" font-family="'Liberation Serif', serif">σ</tspan><tspan dy="11.3" font-size="24.2">f3</tspan><tspan dy="-11.3">'/E (2N</tspan><tspan dy="11.3" font-size="24.2">A</tspan><tspan dy="-11.3">)</tspan><tspan dy="-16.6" font-size="21.5">b3</tspan></text>
<text transform="translate(759.8 775) scale(1 1.07)" font-size="35"><tspan font-family="'Liberation Serif', serif">ε</tspan><tspan dy="11.3" font-size="24.2">a,pl</tspan><tspan dy="-11.3"> = </tspan><tspan font-family="'Liberation Serif', serif">ε</tspan><tspan dy="11.3" font-size="24.2">f</tspan><tspan dy="-11.3">' (2N</tspan><tspan dy="11.3" font-size="24.2">A</tspan><tspan dy="-11.3">)</tspan><tspan dy="-16.6" font-size="21.5">c</tspan></text>
</g>
<rect x="140.0" y="49.0" width="1834.0" height="911.5" fill="none" stroke="#000" stroke-width="2.6"/>
<path d="M129 960.25H140M129 921.82H140M129 894.56H140M129 873.41H140M129 856.14H140M129 841.53H140M129 828.88H140M129 817.71H140M118.5 807.73H140M129 742.05H140M129 703.62H140M129 676.36H140M129 655.21H140M129 637.94H140M129 623.33H140M129 610.68H140M129 599.51H140M118.5 589.53H140M129 523.85H140M129 485.42H140M129 458.16H140M129 437.01H140M129 419.74H140M129 405.13H140M129 392.48H140M129 381.31H140M118.5 371.33H140M129 305.65H140M129 267.22H140M129 239.96H140M129 218.81H140M129 201.54H140M129 186.93H140M129 174.28H140M129 163.11H140M118.5 153.13H140M129 87.45H140M129 49.02H140M139.77 960.5V971M157.27 960.5V971M172.07 960.5V971M184.88 960.5V971M196.19 960.5V971M206.3 960.5V981.5M272.83 960.5V971M311.74 960.5V971M339.36 960.5V971M360.77 960.5V971M378.27 960.5V971M393.07 960.5V971M405.88 960.5V971M417.19 960.5V971M427.3 960.5V981.5M493.83 960.5V971M532.74 960.5V971M560.36 960.5V971M581.77 960.5V971M599.27 960.5V971M614.07 960.5V971M626.88 960.5V971M638.19 960.5V971M648.3 960.5V981.5M714.83 960.5V971M753.74 960.5V971M781.36 960.5V971M802.77 960.5V971M820.27 960.5V971M835.07 960.5V971M847.88 960.5V971M859.19 960.5V971M869.3 960.5V981.5M935.83 960.5V971M974.74 960.5V971M1002.36 960.5V971M1023.77 960.5V971M1041.27 960.5V971M1056.07 960.5V971M1068.88 960.5V971M1080.19 960.5V971M1090.3 960.5V981.5M1156.83 960.5V971M1195.74 960.5V971M1223.36 960.5V971M1244.77 960.5V971M1262.27 960.5V971M1277.07 960.5V971M1289.88 960.5V971M1301.19 960.5V971M1311.3 960.5V981.5M1377.83 960.5V971M1416.74 960.5V971M1444.36 960.5V971M1465.77 960.5V971M1483.27 960.5V971M1498.07 960.5V971M1510.88 960.5V971M1522.19 960.5V971M1532.3 960.5V981.5M1598.83 960.5V971M1637.74 960.5V971M1665.36 960.5V971M1686.77 960.5V971M1704.27 960.5V971M1719.07 960.5V971M1731.88 960.5V971M1743.19 960.5V971M1753.3 960.5V981.5M1819.83 960.5V971M1858.74 960.5V971M1886.36 960.5V971M1907.77 960.5V971M1925.27 960.5V971M1940.07 960.5V971M1952.88 960.5V971M1964.19 960.5V971M1974.3 960.5V981.5" stroke="#000" stroke-width="2.6" fill="none"/>
<g font-family="'Liberation Sans', Arial, sans-serif" fill="#000">
<text transform="translate(103.3 163.53) scale(1 1.07)" font-size="34" text-anchor="end"><tspan>10</tspan></text>
<text transform="translate(103.3 381.73) scale(1 1.07)" font-size="34" text-anchor="end"><tspan>1</tspan></text>
<text transform="translate(103.3 599.93) scale(1 1.07)" font-size="34" text-anchor="end"><tspan>0,1</tspan></text>
<text transform="translate(103.3 818.13) scale(1 1.07)" font-size="34" text-anchor="end"><tspan>0,01</tspan></text>
<text transform="translate(207.1 1020.6) scale(1 1.07)" font-size="34" text-anchor="middle"><tspan>10</tspan><tspan dy="-13.3" font-size="22.5">0</tspan></text>
<text transform="translate(428.1 1020.6) scale(1 1.07)" font-size="34" text-anchor="middle"><tspan>10</tspan><tspan dy="-13.3" font-size="22.5">1</tspan></text>
<text transform="translate(649.1 1020.6) scale(1 1.07)" font-size="34" text-anchor="middle"><tspan>10</tspan><tspan dy="-13.3" font-size="22.5">2</tspan></text>
<text transform="translate(870.1 1020.6) scale(1 1.07)" font-size="34" text-anchor="middle"><tspan>10</tspan><tspan dy="-13.3" font-size="22.5">3</tspan></text>
<text transform="translate(1091.1 1020.6) scale(1 1.07)" font-size="34" text-anchor="middle"><tspan>10</tspan><tspan dy="-13.3" font-size="22.5">4</tspan></text>
<text transform="translate(1312.1 1020.6) scale(1 1.07)" font-size="34" text-anchor="middle"><tspan>10</tspan><tspan dy="-13.3" font-size="22.5">5</tspan></text>
<text transform="translate(1533.1 1020.6) scale(1 1.07)" font-size="34" text-anchor="middle"><tspan>10</tspan><tspan dy="-13.3" font-size="22.5">6</tspan></text>
<text transform="translate(1754.1 1020.6) scale(1 1.07)" font-size="34" text-anchor="middle"><tspan>10</tspan><tspan dy="-13.3" font-size="22.5">7</tspan></text>
<text transform="translate(1975.1 1020.6) scale(1 1.07)" font-size="34" text-anchor="middle"><tspan>10</tspan><tspan dy="-13.3" font-size="22.5">8</tspan></text>
<text transform="translate(1057 1063) scale(1 1.07)" font-size="38.5" text-anchor="middle"><tspan>Cycles to crack initiation N [-]</tspan></text>
<text x="0" y="0" font-size="38.5" text-anchor="middle" transform="translate(31.7 504) rotate(-90) scale(1 1.07)"><tspan>Strain amplitude </tspan><tspan font-family="'Liberation Serif', serif">ε</tspan><tspan dy="11.55" font-size="26.18">a,t</tspan><tspan dy="-11.55"> [%]</tspan></text>
</g>
<rect x="1000.6" y="3.4" width="349.6" height="278.8" fill="#fff" stroke="#1a1a1a" stroke-width="1.5"/>
<rect x="1358.5" y="3.8" width="330.1" height="335" fill="#fff" stroke="#1a1a1a" stroke-width="1.5"/>
<rect x="1693.4" y="3.4" width="274.3" height="540.5" fill="#fff" stroke="#1a1a1a" stroke-width="1.5"/>
<rect x="145.4" y="668.4" width="449.8" height="156.4" fill="#fff" stroke="#1a1a1a" stroke-width="1.5"/>
<rect x="145.4" y="832.4" width="1513.6" height="120.4" fill="#fff" stroke="#1a1a1a" stroke-width="1.5"/>
<g font-family="'Liberation Sans', Arial, sans-serif" fill="#000">
<text transform="translate(1005.2 37.7) scale(1 1.07)" font-size="34"><tspan>Range I:</tspan></text>
<text transform="translate(1005.2 79.6) scale(1 1.07)" font-size="34"><tspan>N</tspan><tspan dy="9.86" font-size="21.42">1</tspan><tspan dy="-9.86"> &lt; 30000</tspan></text>
<text transform="translate(1005.2 129.5) scale(1 1.07)" font-size="34"><tspan>Range II:</tspan></text>
<text transform="translate(1005.2 170.4) scale(1 1.07)" font-size="34"><tspan>30000 &lt; N</tspan><tspan dy="9.86" font-size="21.42">2</tspan><tspan dy="-9.86"> &lt; 1000000</tspan></text>
<text transform="translate(1005.2 220.6) scale(1 1.07)" font-size="34"><tspan>Range III:</tspan></text>
<text transform="translate(1005.2 261.1) scale(1 1.07)" font-size="34"><tspan>N</tspan><tspan dy="9.86" font-size="21.42">3</tspan><tspan dy="-9.86"> &gt; 1000000</tspan></text>
<text transform="translate(1362.5 38.5) scale(1 1.07)" font-size="34"><tspan>EN-GJS-400-18LT</tspan></text>
<text transform="translate(1522 79) scale(1 1.07)" font-size="34"><tspan>01 [6] - I</tspan></text>
<text transform="translate(1522 120.1) scale(1 1.07)" font-size="34"><tspan>02 [6] - III</tspan></text>
<text transform="translate(1522 161.2) scale(1 1.07)" font-size="34"><tspan>03 [6] - I</tspan></text>
<text transform="translate(1522 202.3) scale(1 1.07)" font-size="34"><tspan>04 [6] - III</tspan></text>
<text transform="translate(1522 243.4) scale(1 1.07)" font-size="34"><tspan>05 [21] - III</tspan></text>
<text transform="translate(1522 284.5) scale(1 1.07)" font-size="34"><tspan>06 [21] - III</tspan></text>
<text transform="translate(1522 325.6) scale(1 1.07)" font-size="34"><tspan>07 [28] - III</tspan></text>
<text transform="translate(1697.8 38.5) scale(1 1.07)" font-size="34"><tspan>E = 168,0 GPa</tspan></text>
<text transform="translate(1697.8 80.8) scale(1 1.07)" font-size="34"><tspan font-family="'Liberation Serif', serif">ε</tspan><tspan dy="9.86" font-size="22.44">f</tspan><tspan dy="-9.86">' = 0,0963</tspan></text>
<text transform="translate(1697.8 130.3) scale(1 1.07)" font-size="34"><tspan>c = -0,5780</tspan></text>
<text transform="translate(1697.8 171.6) scale(1 1.07)" font-size="34"><tspan font-size="35.36" font-family="'Liberation Serif', serif">σ</tspan><tspan dy="9.86" font-size="22.44">f1</tspan><tspan dy="-9.86">' = 481,0 MPa</tspan></text>
<text transform="translate(1697.8 222.3) scale(1 1.07)" font-size="34"><tspan>b</tspan><tspan dy="9.86" font-size="22.44">1</tspan><tspan dy="-9.86"> = -0,0531</tspan></text>
<text transform="translate(1697.8 271.8) scale(1 1.07)" font-size="34"><tspan font-size="35.36" font-family="'Liberation Serif', serif">σ</tspan><tspan dy="9.86" font-size="22.44">f2</tspan><tspan dy="-9.86">' = 1090,0 MPa</tspan></text>
<text transform="translate(1697.8 321.7) scale(1 1.07)" font-size="34"><tspan>b</tspan><tspan dy="9.86" font-size="22.44">2</tspan><tspan dy="-9.86"> = -0,1310</tspan></text>
<text transform="translate(1697.8 373.8) scale(1 1.07)" font-size="34"><tspan font-size="35.36" font-family="'Liberation Serif', serif">σ</tspan><tspan dy="9.86" font-size="22.44">f3</tspan><tspan dy="-9.86">' = 225,0 MPa</tspan></text>
<text transform="translate(1697.8 423.4) scale(1 1.07)" font-size="34"><tspan>b</tspan><tspan dy="9.86" font-size="22.44">3</tspan><tspan dy="-9.86"> = -0,0223</tspan></text>
<text transform="translate(1697.8 473.8) scale(1 1.07)" font-size="34"><tspan>T</tspan><tspan dy="9.86" font-size="22.44" font-family="'Liberation Serif', serif">ε</tspan><tspan font-size="22.44">,pl</tspan><tspan dy="-9.86"> = 1:3,31</tspan></text>
<text transform="translate(1697.8 523.7) scale(1 1.07)" font-size="34"><tspan>T</tspan><tspan dy="9.86" font-size="22.44" font-family="'Liberation Serif', serif">ε</tspan><tspan font-size="22.44">,el</tspan><tspan dy="-9.86"> = 1:1,33</tspan></text>
<text transform="translate(316.5 703.3) scale(1 1.07)" font-size="34"><tspan>Total strain - </tspan><tspan font-family="'Liberation Serif', serif">ε</tspan><tspan dy="9.86" font-size="21.42">a,t</tspan></text>
<text transform="translate(317.3 753.6) scale(1 1.07)" font-size="34"><tspan>Elastic strain - </tspan><tspan font-family="'Liberation Serif', serif">ε</tspan><tspan dy="9.86" font-size="21.42">a,el</tspan></text>
<text transform="translate(317.3 804.5) scale(1 1.07)" font-size="34"><tspan>Plastic strain - </tspan><tspan font-family="'Liberation Serif', serif">ε</tspan><tspan dy="9.86" font-size="21.42">a,pl</tspan></text>
<text transform="translate(151.2 863.4) scale(1 1.07)" font-size="28.2" font-weight="bold"><tspan>EN-GJS-400-18LT</tspan></text>
<text transform="translate(562.5 863.4) scale(1 1.07)" font-size="28.2" font-weight="bold"><tspan>R</tspan><tspan dy="9.5" font-size="24.5" font-family="'Liberation Serif', serif" font-weight="normal">ε</tspan><tspan dy="-9.5"> = -1</tspan></text>
<text transform="translate(158.8 906.6) scale(1 1.07)" font-size="28.6"><tspan>Frequenzy:</tspan></text>
<rect x="159.4" y="910" width="144.45" height="2.2" fill="#000"/>
<text transform="translate(158.8 942.7) scale(1 1.07)" font-size="28.6"><tspan>Condition.:</tspan></text>
<rect x="159.4" y="946.1" width="138.1" height="2.2" fill="#000"/>
<text transform="translate(563 906.6) scale(1 1.07)" font-size="28.6"><tspan>Test type:</tspan></text>
<rect x="563.6" y="910" width="123.78" height="2.2" fill="#000"/>
<text transform="translate(563 942.7) scale(1 1.07)" font-size="28.6"><tspan>Load:</tspan></text>
<rect x="563.6" y="946.1" width="72.96" height="2.2" fill="#000"/>
<text transform="translate(1178.8 906.6) scale(1 1.07)" font-size="28.6"><tspan>Specimen:</tspan></text>
<rect x="1179.4" y="910" width="136.51" height="2.2" fill="#000"/>
<text transform="translate(1178.8 942.7) scale(1 1.07)" font-size="28.6"><tspan>Crack criterion:</tspan></text>
<rect x="1179.4" y="946.1" width="193.67" height="2.2" fill="#000"/>
<text transform="translate(356.5 906.6) scale(1 1.07)" font-size="28.6"><tspan>0.1 - 25 Hz</tspan></text>
<text transform="translate(356.5 942.7) scale(1 1.07)" font-size="28.6"><tspan>Air, RT</tspan></text>
<text transform="translate(768.3 906.6) scale(1 1.07)" font-size="28.6"><tspan>Strain-controlled test</tspan></text>
<text transform="translate(768.3 942.7) scale(1 1.07)" font-size="28.6"><tspan>Axial, const. amplitude, sine</tspan></text>
<text transform="translate(1384.6 906.6) scale(1 1.07)" font-size="28.6"><tspan>I, III</tspan></text>
<text transform="translate(1384.6 942.7) scale(1 1.07)" font-size="28.6"><tspan>10% Force reduction</tspan></text>
</g>
<path d="M150.1 692.6H224.6" stroke="#000" stroke-width="5.4" stroke-dasharray="7.8 15.2" stroke-linecap="round"/>
<path d="M150.1 743.3H224.8" stroke="#000" stroke-width="3" stroke-dasharray="14.5 8.2 3 7.6" stroke-linecap="round"/>
<path d="M150 793.7H227" stroke="#000" stroke-width="2.7" stroke-dasharray="2.8 12.9" stroke-linecap="round"/>
<circle cx="271.7" cy="743.3" r="7.5" fill="#000"/>
<circle cx="271.7" cy="793.7" r="7.0" fill="none" stroke="#000" stroke-width="1.1"/><path d="M264.9 786.9L278.5 800.5M264.9 800.5L278.5 786.9" stroke="#000" stroke-width="1.1"/>
<circle cx="1400.6" cy="68.7" r="7.0" fill="none" stroke="#000080" stroke-width="1.1"/><path d="M1393.8 61.9L1407.4 75.5M1393.8 75.5L1407.4 61.9" stroke="#000080" stroke-width="1.1"/>
<circle cx="1475.6" cy="68.7" r="7.5" fill="#000080"/>
<circle cx="1400.6" cy="109.85" r="7.0" fill="none" stroke="#FF8000" stroke-width="1.1"/><path d="M1393.8 103.05L1407.4 116.65M1393.8 116.65L1407.4 103.05" stroke="#FF8000" stroke-width="1.1"/>
<circle cx="1475.6" cy="109.85" r="7.5" fill="#FF8000"/>
<circle cx="1400.6" cy="151" r="7.0" fill="none" stroke="#6CAA20" stroke-width="1.1"/><path d="M1393.8 144.2L1407.4 157.8M1393.8 157.8L1407.4 144.2" stroke="#6CAA20" stroke-width="1.1"/>
<circle cx="1475.6" cy="151" r="7.5" fill="#6CAA20"/>
<circle cx="1400.6" cy="192.15" r="7.0" fill="none" stroke="#800080" stroke-width="1.1"/><path d="M1393.8 185.35L1407.4 198.95M1393.8 198.95L1407.4 185.35" stroke="#800080" stroke-width="1.1"/>
<circle cx="1475.6" cy="192.15" r="7.5" fill="#800080"/>
<circle cx="1400.6" cy="233.3" r="7.0" fill="none" stroke="#0000FF" stroke-width="1.1"/><path d="M1393.8 226.5L1407.4 240.1M1393.8 240.1L1407.4 226.5" stroke="#0000FF" stroke-width="1.1"/>
<circle cx="1475.6" cy="233.3" r="7.5" fill="#0000FF"/>
<circle cx="1400.6" cy="274.45" r="7.0" fill="none" stroke="#FF00FF" stroke-width="1.1"/><path d="M1393.8 267.65L1407.4 281.25M1393.8 281.25L1407.4 267.65" stroke="#FF00FF" stroke-width="1.1"/>
<circle cx="1475.6" cy="274.45" r="7.5" fill="#FF00FF"/>
<circle cx="1400.6" cy="315.6" r="7.0" fill="none" stroke="#00FFFF" stroke-width="1.1"/><path d="M1393.8 308.8L1407.4 322.4M1393.8 322.4L1407.4 308.8" stroke="#00FFFF" stroke-width="1.1"/>
<circle cx="1475.6" cy="315.6" r="7.5" fill="#00FFFF"/>
</svg></body></html>
